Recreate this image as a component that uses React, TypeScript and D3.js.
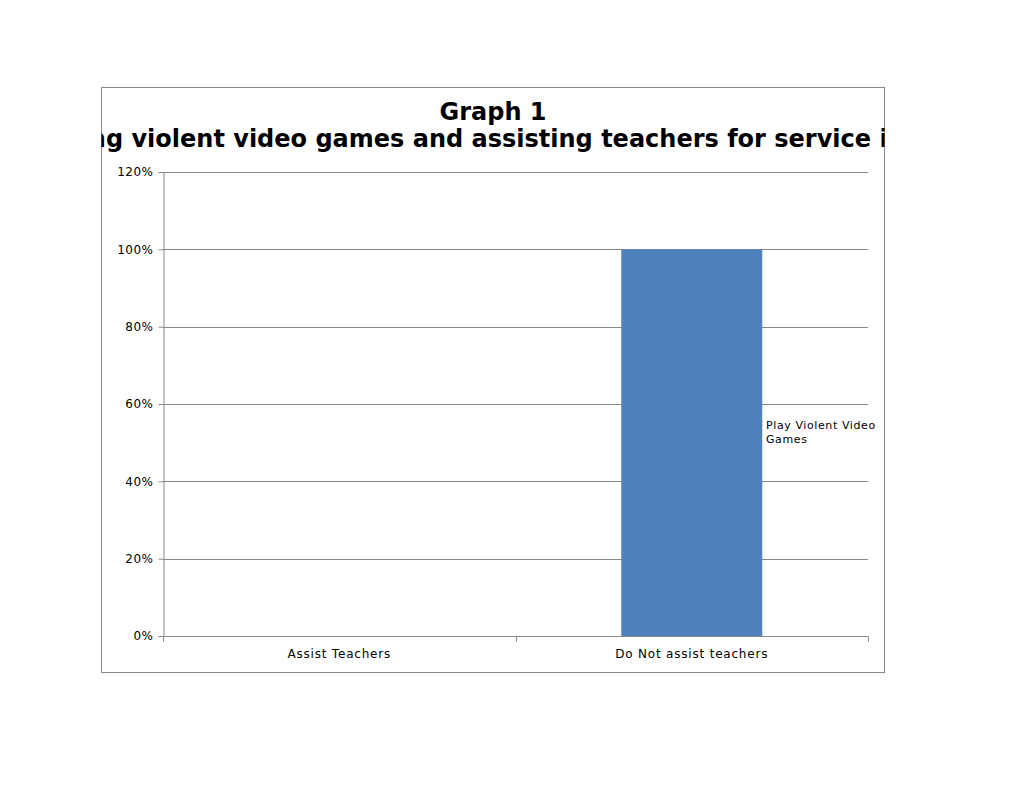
import React, { useEffect, useRef } from 'react';
import * as d3 from 'd3';

const categories = ['Assist Teachers', 'Do Not assist teachers'];
const playViolent = [0, 1];
const seriesName = ['Play Violent Video', 'Games'];
const yTicks = [0, 0.2, 0.4, 0.6, 0.8, 1.0, 1.2];
const titleLines = [
  'Graph 1',
  'Playing violent video games and assisting teachers for service in class',
];

const W = 1023;
const H = 791;
const frame = { x: 101.5, y: 87.5, w: 783, h: 585 };
const margin = { top: 172, right: 155, bottom: 155, left: 163 };

const App: React.FC = () => {
  const svgRef = useRef<SVGSVGElement>(null);

  useEffect(() => {
    if (!svgRef.current) return;
    const svg = d3.select(svgRef.current);
    svg.selectAll('*').remove();

    const font = 'DejaVu Sans, Verdana, sans-serif';
    const innerW = W - margin.left - margin.right;
    const innerH = H - margin.top - margin.bottom;

    // Outer chart frame
    svg.append('rect')
      .attr('x', frame.x).attr('y', frame.y)
      .attr('width', frame.w).attr('height', frame.h)
      .attr('fill', '#fff').attr('stroke', '#888').attr('stroke-width', 1);

    svg.append('clipPath').attr('id', 'frame-clip')
      .append('rect')
      .attr('x', frame.x).attr('y', frame.y)
      .attr('width', frame.w).attr('height', frame.h);

    // Title (second line is wider than the frame and gets clipped)
    const cx = frame.x + frame.w / 2;
    const title = svg.append('g').attr('clip-path', 'url(#frame-clip)');
    title.selectAll('text')
      .data(titleLines)
      .enter()
      .append('text')
      .attr('x', (d, i) => cx + (i === 1 ? 9 : 0))
      .attr('y', (d, i) => 120 + i * 27)
      .attr('text-anchor', 'middle')
      .attr('font-family', font)
      .attr('font-weight', 'bold')
      .attr('font-size', 24)
      .attr('fill', '#000')
      .text((d) => d);

    const x = d3.scaleBand().domain(categories).range([0, innerW]).paddingInner(0.6).paddingOuter(0.3);
    const xEdge = d3.scaleLinear().domain([0, categories.length]).range([0, innerW]);
    const y = d3.scaleLinear().domain([0, 1.2]).range([innerH, 0]);

    const g = svg.append('g').attr('transform', `translate(${margin.left},${margin.top})`);

    // Grid lines
    g.append('g')
      .selectAll('line')
      .data(yTicks)
      .enter()
      .append('line')
      .attr('x1', 0).attr('x2', innerW)
      .attr('y1', (d) => Math.round(y(d)) + 0.5)
      .attr('y2', (d) => Math.round(y(d)) + 0.5)
      .attr('stroke', '#888');

    // Bars
    g.selectAll('.bar')
      .data(playViolent)
      .enter()
      .append('rect')
      .attr('class', 'bar')
      .attr('x', (d, i) => x(categories[i]) as number)
      .attr('width', x.bandwidth())
      .attr('y', (d) => y(d))
      .attr('height', (d) => innerH - y(d))
      .attr('fill', '#4F81BD');

    // Y axis
    const yAxis = g.append('g')
      .attr('transform', 'translate(0.5,0)')
      .call(d3.axisLeft(y).tickValues(yTicks).tickSize(5).tickPadding(5).tickFormat(d3.format('.0%')));
    yAxis.select('.domain').attr('stroke', '#888');
    yAxis.selectAll('.tick line').attr('stroke', '#888');
    yAxis.selectAll('.tick text')
      .attr('font-family', font).attr('font-size', 12)
      .attr('letter-spacing', 0.5).attr('fill', '#000');

    // X axis
    const xAxis = g.append('g').attr('transform', `translate(0,${innerH + 0.5})`);
    xAxis.append('line').attr('x1', 0).attr('x2', innerW).attr('stroke', '#888');
    xAxis.selectAll('.xt')
      .data(d3.range(categories.length + 1))
      .enter()
      .append('line')
      .attr('x1', (d) => Math.round(xEdge(d)) + 0.5)
      .attr('x2', (d) => Math.round(xEdge(d)) + 0.5)
      .attr('y1', 0).attr('y2', 5)
      .attr('stroke', '#888');
    xAxis.selectAll('.xl')
      .data(categories)
      .enter()
      .append('text')
      .attr('x', (d) => (x(d) as number) + x.bandwidth() / 2)
      .attr('y', 21)
      .attr('text-anchor', 'middle')
      .attr('font-family', font)
      .attr('font-size', 12)
      .attr('letter-spacing', 0.8)
      .attr('fill', '#000')
      .text((d) => d);

    // Legend
    svg.append('g')
      .selectAll('text')
      .data(seriesName)
      .enter()
      .append('text')
      .attr('x', 766)
      .attr('y', (d, i) => 429 + i * 14)
      .attr('font-family', font)
      .attr('font-size', 11)
      .attr('letter-spacing', 0.6)
      .attr('fill', '#000')
      .text((d) => d);
  }, []);

  return (
    <svg
      ref={svgRef}
      width={W}
      height={H}
      style={{ position: 'absolute', left: 0, top: 0, display: 'block', background: '#fff' }}
    />
  );
};

export default App;
